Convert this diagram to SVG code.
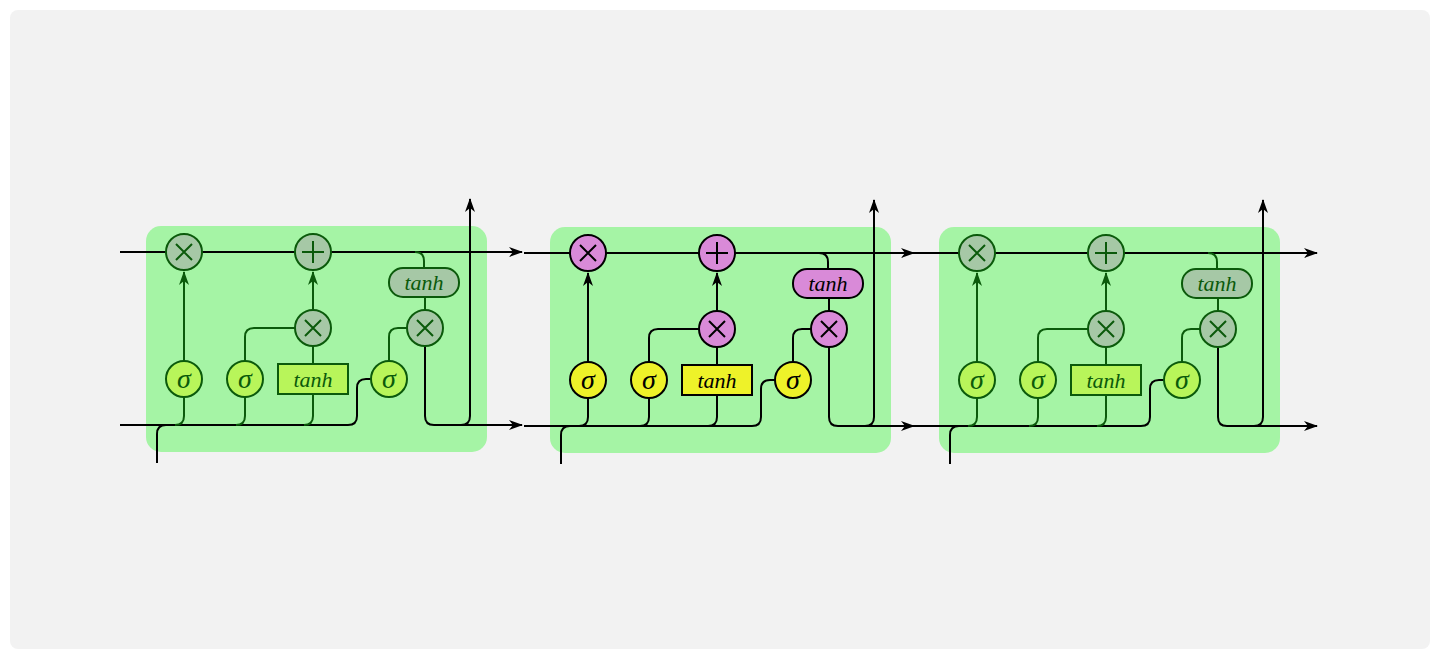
<svg xmlns="http://www.w3.org/2000/svg" width="1440" height="659" viewBox="0 0 1440 659">
<defs>
<style>
.box{fill:#a5f4a5}
.main{fill:none;stroke:#000;stroke-width:2}
.br{fill:none;stroke:#0b5a0b;stroke-width:2}
.brk{fill:none;stroke:#000;stroke-width:2}
.op{fill:#a6c8a6;stroke:#0b5a0b;stroke-width:2}
.sg{fill:#b8f55a;stroke:#0b5a0b;stroke-width:2}
.opk{fill:#d98ad8;stroke:#000;stroke-width:2}
.sgk{fill:#eef229;stroke:#000;stroke-width:2}
.x{stroke:#0b5a0b;stroke-width:2}
.xk{stroke:#000;stroke-width:2}
.t{font-family:"Liberation Serif",serif;font-style:italic;text-anchor:middle}
.g{fill:#0b5a0b}
.k{fill:#000}
</style>
<marker id="ak" viewBox="0 0 14 10" refX="13" refY="5" markerWidth="14" markerHeight="10" markerUnits="userSpaceOnUse" orient="auto"><path d="M0,0 L14,5 L0,10 L4,5 z" fill="#000"/></marker>
<marker id="ag" viewBox="0 0 14 10" refX="13" refY="5" markerWidth="14" markerHeight="10" markerUnits="userSpaceOnUse" orient="auto"><path d="M0,0 L14,5 L0,10 L4,5 z" fill="#0b5a0b"/></marker>
</defs>
<rect x="0" y="0" width="1440" height="659" fill="#fff"/>
<rect x="10" y="10" width="1420" height="639" rx="8" fill="#f2f2f2"/>

<!-- Cell 1 -->
<g id="cell1">
<rect class="box" x="146" y="226" width="341" height="226" rx="15"/>
<g id="c1-connectors">
<path class="main" d="M120,252 H522" marker-end="url(#ak)"/>
<path class="main" d="M120,425 H348 Q357,425 357,416 V388 Q357,379 366,379 H371"/>
<path class="main" d="M157,463 V434 Q157,425 166,425"/>
<path class="main" d="M425,346 V416 Q425,425 434,425 H522" marker-end="url(#ak)"/>
<path class="main" d="M434,425 H461 Q470,425 470,416 V199" marker-end="url(#ak)"/>
<path class="br" d="M184,397 V416 Q184,425 175,425"/>
<path class="br" d="M245,397 V416 Q245,425 236,425"/>
<path class="br" d="M313,394 V416 Q313,425 304,425"/>
<path class="br" d="M245,361 V337 Q245,328 254,328 H295"/>
<path class="br" d="M313,364 V346"/>
<path class="br" d="M389,361 V337 Q389,328 398,328 H407"/>
<path class="br" d="M425,310 V297"/>
<path class="br" d="M424,268 V261 Q424,252 415,252"/>
<path class="br" d="M184,361 V272" marker-end="url(#ag)"/>
<path class="br" d="M313,310 V272" marker-end="url(#ag)"/>
</g>
<g id="c1-mf"><circle class="op" cx="184" cy="252" r="18"/><path class="x" d="M176,244 L192,260 M192,244 L176,260"/></g>
<g id="c1-add"><circle class="op" cx="313" cy="252" r="18"/><path class="x" d="M313,241 V263 M302,252 H324"/></g>
<g id="c1-mi"><circle class="op" cx="313" cy="328" r="18"/><path class="x" d="M305,320 L321,336 M321,320 L305,336"/></g>
<g id="c1-mo"><circle class="op" cx="425" cy="328" r="18"/><path class="x" d="M417,320 L433,336 M433,320 L417,336"/></g>
<g id="c1-tc"><rect class="op" x="389" y="268" width="70" height="29" rx="14"/><text class="t g" x="424" y="290" font-size="22">tanh</text></g>
<g id="c1-s1"><circle class="sg" cx="184" cy="379" r="18"/><text class="t g" x="184" y="388" font-size="28">σ</text></g>
<g id="c1-s2"><circle class="sg" cx="245" cy="379" r="18"/><text class="t g" x="245" y="388" font-size="28">σ</text></g>
<g id="c1-tr"><rect class="sg" x="278" y="364" width="70" height="30"/><text class="t g" x="313" y="387" font-size="22">tanh</text></g>
<g id="c1-s3"><circle class="sg" cx="389" cy="379" r="18"/><text class="t g" x="389" y="388" font-size="28">σ</text></g>
</g>

<!-- Cell 2 -->
<g id="cell2" transform="translate(404,1)">
<rect class="box" x="146" y="226" width="341" height="226" rx="15"/>
<g id="c2-connectors">
<path class="main" d="M120,252 H510" marker-end="url(#ak)"/>
<path class="main" d="M120,425 H348 Q357,425 357,416 V388 Q357,379 366,379 H371"/>
<path class="main" d="M157,463 V434 Q157,425 166,425"/>
<path class="main" d="M425,346 V416 Q425,425 434,425 H510" marker-end="url(#ak)"/>
<path class="main" d="M434,425 H461 Q470,425 470,416 V199" marker-end="url(#ak)"/>
<path class="brk" d="M184,397 V416 Q184,425 175,425"/>
<path class="brk" d="M245,397 V416 Q245,425 236,425"/>
<path class="brk" d="M313,394 V416 Q313,425 304,425"/>
<path class="brk" d="M245,361 V337 Q245,328 254,328 H295"/>
<path class="brk" d="M313,364 V346"/>
<path class="brk" d="M389,361 V337 Q389,328 398,328 H407"/>
<path class="brk" d="M425,310 V297"/>
<path class="brk" d="M424,268 V261 Q424,252 415,252"/>
<path class="brk" d="M184,361 V272" marker-end="url(#ak)"/>
<path class="brk" d="M313,310 V272" marker-end="url(#ak)"/>
</g>
<g id="c2-mf"><circle class="opk" cx="184" cy="252" r="18"/><path class="xk" d="M176,244 L192,260 M192,244 L176,260"/></g>
<g id="c2-add"><circle class="opk" cx="313" cy="252" r="18"/><path class="xk" d="M313,241 V263 M302,252 H324"/></g>
<g id="c2-mi"><circle class="opk" cx="313" cy="328" r="18"/><path class="xk" d="M305,320 L321,336 M321,320 L305,336"/></g>
<g id="c2-mo"><circle class="opk" cx="425" cy="328" r="18"/><path class="xk" d="M417,320 L433,336 M433,320 L417,336"/></g>
<g id="c2-tc"><rect class="opk" x="389" y="268" width="70" height="29" rx="14"/><text class="t k" x="424" y="290" font-size="22">tanh</text></g>
<g id="c2-s1"><circle class="sgk" cx="184" cy="379" r="18"/><text class="t k" x="184" y="388" font-size="28">σ</text></g>
<g id="c2-s2"><circle class="sgk" cx="245" cy="379" r="18"/><text class="t k" x="245" y="388" font-size="28">σ</text></g>
<g id="c2-tr"><rect class="sgk" x="278" y="364" width="70" height="30"/><text class="t k" x="313" y="387" font-size="22">tanh</text></g>
<g id="c2-s3"><circle class="sgk" cx="389" cy="379" r="18"/><text class="t k" x="389" y="388" font-size="28">σ</text></g>
</g>

<!-- Cell 3 -->
<g id="cell3" transform="translate(793,1)">
<rect class="box" x="146" y="226" width="341" height="226" rx="15"/>
<g id="c3-connectors">
<path class="main" d="M120,252 H524" marker-end="url(#ak)"/>
<path class="main" d="M120,425 H348 Q357,425 357,416 V388 Q357,379 366,379 H371"/>
<path class="main" d="M157,463 V434 Q157,425 166,425"/>
<path class="main" d="M425,346 V416 Q425,425 434,425 H524" marker-end="url(#ak)"/>
<path class="main" d="M434,425 H461 Q470,425 470,416 V199" marker-end="url(#ak)"/>
<path class="br" d="M184,397 V416 Q184,425 175,425"/>
<path class="br" d="M245,397 V416 Q245,425 236,425"/>
<path class="br" d="M313,394 V416 Q313,425 304,425"/>
<path class="br" d="M245,361 V337 Q245,328 254,328 H295"/>
<path class="br" d="M313,364 V346"/>
<path class="br" d="M389,361 V337 Q389,328 398,328 H407"/>
<path class="br" d="M425,310 V297"/>
<path class="br" d="M424,268 V261 Q424,252 415,252"/>
<path class="br" d="M184,361 V272" marker-end="url(#ag)"/>
<path class="br" d="M313,310 V272" marker-end="url(#ag)"/>
</g>
<g id="c3-mf"><circle class="op" cx="184" cy="252" r="18"/><path class="x" d="M176,244 L192,260 M192,244 L176,260"/></g>
<g id="c3-add"><circle class="op" cx="313" cy="252" r="18"/><path class="x" d="M313,241 V263 M302,252 H324"/></g>
<g id="c3-mi"><circle class="op" cx="313" cy="328" r="18"/><path class="x" d="M305,320 L321,336 M321,320 L305,336"/></g>
<g id="c3-mo"><circle class="op" cx="425" cy="328" r="18"/><path class="x" d="M417,320 L433,336 M433,320 L417,336"/></g>
<g id="c3-tc"><rect class="op" x="389" y="268" width="70" height="29" rx="14"/><text class="t g" x="424" y="290" font-size="22">tanh</text></g>
<g id="c3-s1"><circle class="sg" cx="184" cy="379" r="18"/><text class="t g" x="184" y="388" font-size="28">σ</text></g>
<g id="c3-s2"><circle class="sg" cx="245" cy="379" r="18"/><text class="t g" x="245" y="388" font-size="28">σ</text></g>
<g id="c3-tr"><rect class="sg" x="278" y="364" width="70" height="30"/><text class="t g" x="313" y="387" font-size="22">tanh</text></g>
<g id="c3-s3"><circle class="sg" cx="389" cy="379" r="18"/><text class="t g" x="389" y="388" font-size="28">σ</text></g>
</g>
</svg>
